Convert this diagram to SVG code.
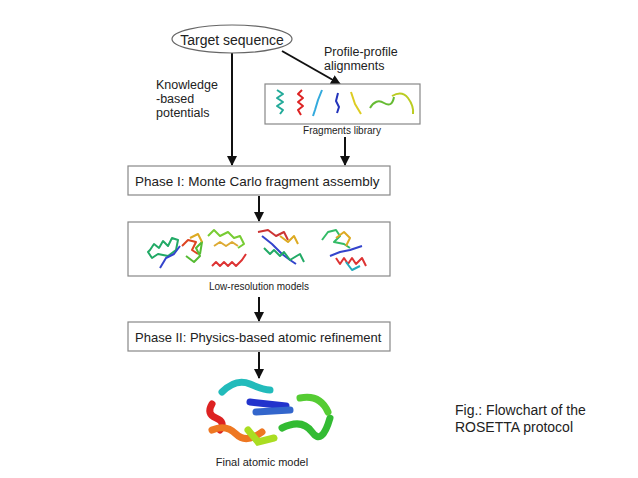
<svg xmlns="http://www.w3.org/2000/svg" width="638" height="478" viewBox="0 0 638 478">
<style>
text{font-family:"Liberation Sans",Arial,sans-serif;fill:#222}
.box{fill:#fff;stroke:#888;stroke-width:1.2}
.c{stroke:#111;stroke-width:2;fill:none;marker-end:url(#ah)}
.p{fill:none;stroke-width:2;stroke-linejoin:round}
.r{fill:none;stroke-width:7;stroke-linecap:round}
</style>
<defs><marker id="ah" viewBox="0 0 10 10" refX="9" refY="5" markerWidth="5" markerHeight="5" orient="auto"><path d="M0,0L10,5L0,10z" fill="#111"/></marker></defs>
<rect width="638" height="478" fill="#fff"/>
<g id="connectors">
<line class="c" x1="232" y1="53" x2="232" y2="165"/>
<line class="c" x1="282" y1="51" x2="340" y2="84"/>
<line class="c" x1="345" y1="137" x2="345" y2="165"/>
<line class="c" x1="259" y1="196" x2="259" y2="221"/>
<line class="c" x1="259" y1="297" x2="259" y2="321"/>
<line class="c" x1="259" y1="352" x2="259" y2="378"/>
</g>
<g id="target"><ellipse cx="232" cy="39" rx="60" ry="14" fill="#fff" stroke="#666" stroke-width="1.2"/><text x="232" y="45" font-size="14" text-anchor="middle">Target sequence</text></g>
<g id="kb"><text font-size="12.5"><tspan x="156" y="89">Knowledge</tspan><tspan x="156" y="103">-based</tspan><tspan x="156" y="117">potentials</tspan></text></g>
<g id="ppa"><text font-size="12.5"><tspan x="324" y="56">Profile-profile</tspan><tspan x="324" y="70">alignments</tspan></text></g>
<g id="fragments">
<rect class="box" x="265" y="84" width="155" height="40"/>
<path class="p" stroke="#2a9" stroke-width="4" d="M277,90l6,4l-6,4l6,4l-6,4l6,4l-3,4"/>
<path class="p" stroke="#d22" stroke-width="4" d="M302,90l-4,4l5,4l-5,4l5,4l-5,4l3,5"/>
<path class="p" stroke="#3ad" stroke-width="3" d="M322,90l-4,10l-3,10l-2,6"/>
<path class="p" stroke="#23b" stroke-width="4" d="M338,93l-2,8l3,6l-2,6"/>
<path class="p" stroke="#dc2" stroke-width="4" d="M351,92l4,12l6,10"/>
<path class="p" stroke="#6b3" d="M370,108q6,-10 14,-5t10,-6"/>
<path class="p" stroke="#bc2" stroke-width="3" d="M392,96q10,-6 16,2t5,16"/>
<text x="342" y="134" font-size="10" text-anchor="middle">Fragments library</text>
</g>
<g id="phase1"><rect class="box" x="128" y="166" width="262" height="29"/><text x="135" y="186" font-size="13.5">Phase I: Monte Carlo fragment assembly</text></g>
<g id="models">
<rect class="box" x="128" y="222" width="262" height="54"/>
<path class="p" stroke="#2a6" d="M150,250l4,-6l5,4l4,-7l5,5l4,-8l6,2l-2,10l-8,6l-10,-2l-6,4l-4,-6z"/>
<path class="p" stroke="#34c" d="M160,268l6,-10l8,-4l6,-8"/>
<path class="p" stroke="#d42" d="M182,246l6,-6l8,2l-4,8l6,4"/>
<path class="p" stroke="#5b3" d="M186,256l8,6l6,-6l-4,-8l6,-6l-2,12"/>
<path class="p" stroke="#da2" d="M190,238l8,-4l4,8"/>
<path class="p" stroke="#7c3" d="M208,236l6,-6l6,6l8,-4l6,6l6,-2l4,8l-6,4"/>
<path class="p" stroke="#da3" d="M214,246l6,-4l6,4l6,-4l6,4"/>
<path class="p" stroke="#d33" d="M212,266l4,-4l4,4l4,-4l4,4l4,-4l4,4l6,-6l4,-6"/>
<path class="p" stroke="#c33" d="M258,232l10,-2l8,6l8,-4l4,8"/>
<path class="p" stroke="#34c" d="M262,236l10,8l10,10l8,6l6,4"/>
<path class="p" stroke="#2a6" d="M264,248l6,6l4,-4l6,6l4,-4l6,8l10,-6l4,8"/>
<path class="p" stroke="#da2" d="M280,236l8,6l6,-6l4,8"/>
<path class="p" stroke="#3b6" d="M322,240l6,-8l8,-2l4,6l-6,6l10,2l6,4"/>
<path class="p" stroke="#da2" d="M336,238l8,-6l6,6l-4,8"/>
<path class="p" stroke="#34c" d="M330,256l10,-4l10,-2l12,-4"/>
<path class="p" stroke="#d33" d="M336,258l4,6l4,-6l4,6l4,-6l4,6l6,-6l4,8"/>
<path class="p" stroke="#2ab" d="M346,262l6,8l8,-4"/>
<text x="259" y="290" font-size="10" text-anchor="middle">Low-resolution models</text>
</g>
<g id="phase2"><rect class="box" x="128" y="322" width="262" height="29"/><text x="135" y="342" font-size="13">Phase II: Physics-based atomic refinement</text></g>
<g id="final">
<path class="r" stroke="#2bb" d="M222,392q14,-14 28,-8t20,6"/>
<path class="r" stroke="#23c" d="M250,402l36,4"/>
<path class="r" stroke="#36c" d="M256,412l34,-2"/>
<path class="r" stroke="#d22" d="M212,404q-6,10 4,14t4,12"/>
<path class="r" stroke="#e72" d="M212,430q14,-6 24,4t26,-2"/>
<path class="r" stroke="#ad2" d="M248,430l10,12l16,-4"/>
<path class="r" stroke="#3b3" d="M282,428q20,-10 30,4t18,-14"/>
<path class="r" stroke="#5c3" d="M300,398q20,-4 28,14"/>
<text x="262" y="466" font-size="11" text-anchor="middle">Final atomic model</text>
</g>
<g id="caption"><text font-size="14"><tspan x="455" y="415">Fig.: Flowchart of the</tspan><tspan x="455" y="432">ROSETTA protocol</tspan></text></g>
</svg>
